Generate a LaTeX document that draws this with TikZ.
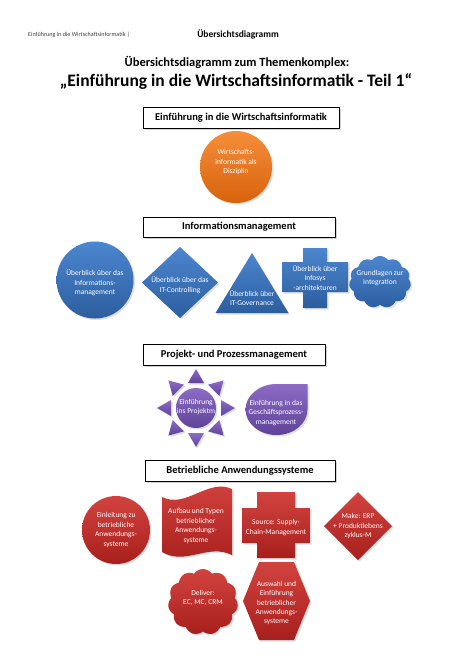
\documentclass[tikz,border=0pt]{standalone}
\usepackage{fontspec}
\setmainfont{Carlito}
\usetikzlibrary{shapes.geometric,shapes.symbols,shadows,calc}
\definecolor{orT}{HTML}{F58E3A}\definecolor{orB}{HTML}{D8620C}
\definecolor{blT}{HTML}{4C86CF}\definecolor{blB}{HTML}{2C5E9F}
\definecolor{puT}{HTML}{8C6CC4}\definecolor{puB}{HTML}{5F4299}
\definecolor{reT}{HTML}{D2433F}\definecolor{reB}{HTML}{A71F1C}
\tikzset{
  shd/.style={drop shadow={opacity=0.25,shadow xshift=1.5pt,shadow yshift=-1.5pt}},
  orshape/.style={top color=orT,bottom color=orB,shd},
  blshape/.style={top color=blT,bottom color=blB,shd},
  pushape/.style={top color=puT,bottom color=puB,shd},
  reshape/.style={top color=reT,bottom color=reB,shd},
  stxt/.style={text=white,font=\fontsize{7.5}{9.4}\selectfont,align=center,inner sep=0pt},
  headbox/.style={draw=black,line width=0.9pt,fill=white,font=\bfseries\fontsize{10.5}{12}\selectfont,
    inner sep=0pt,minimum height=21pt,
    drop shadow={opacity=0.35,shadow xshift=2pt,shadow yshift=-2pt,fill=gray}},
}
\begin{document}
\begin{tikzpicture}[x=1pt,y=-1pt]
\useasboundingbox (0,0) rectangle (474,670);
\fill[white] (0,0) rectangle (474,670);
% header
\node[anchor=west,font=\fontsize{6.1}{7}\selectfont,text=black!75,inner sep=0pt] (hdl) at (28,35) {Einführung in die Wirtschaftsinformatik |};
\node[font=\bfseries\fontsize{9.5}{11}\selectfont,inner sep=0pt] (hdr) at (238,34.5) {Übersichtsdiagramm};
\node[font=\bfseries\fontsize{12.5}{14}\selectfont,inner sep=0pt] (t1) at (237,62) {Übersichtsdiagramm zum Themenkomplex:};
\node[font=\bfseries\fontsize{17.5}{19}\selectfont,inner sep=0pt] (t2) at (236,82) {„Einführung in die Wirtschaftsinformatik - Teil 1“};
% section boxes
\node[headbox,minimum width=196pt] (b1) at (241,117.5) {Einführung in die Wirtschaftsinformatik};
\node[headbox,minimum width=192pt,minimum height=20pt] (b2) at (239,227) {Informationsmanagement};
\node[headbox,minimum width=182pt] (b3) at (234,354.5) {Projekt- und Prozessmanagement};
\node[headbox,minimum width=190pt] (b4) at (240,470.5) {Betriebliche Anwendungssysteme};
% --- section 1
\path[orshape] (236,167) circle[radius=36];
\node[stxt] (o1) at (236,162) {Wirtschafts-\\informatik als\\Disziplin};
% --- section 2
\path[blshape] (95,280) circle[radius=38.5];
\node[stxt] (i1) at (95,283) {Überblick über das\\Informations-\\management};
\path[blshape] (180,247) -- (218,282.5) -- (180,318) -- (142,282.5) -- cycle;
\node[stxt] (i2) at (180,285) {Überblick über das\\IT-Controlling};
\path[blshape] (252,253) -- (288.5,313) -- (215.5,313) -- cycle;
\node[stxt] (i3) at (252,298) {Überblick über\\IT-Governance};
\path[blshape] (303,248) -- (327,248) -- (327,262) -- (348,262) -- (348,292) -- (327,292) -- (327,308) -- (303,308) -- (303,292) -- (282,292) -- (282,262) -- (303,262) -- cycle;
\node[stxt] (i4) at (315,278) {Überblick über\\Infosys\\-architekturen};
\node[cloud,cloud ignores aspect,cloud puffs=11,cloud puff arc=110,minimum width=62pt,minimum height=52pt,inner sep=0pt,blshape] (cl1) at (380,282) {};
\node[stxt] (i5) at (380,278) {Grundlagen zur\\Integration};
% --- section 3
\coordinate (sun) at (196,408);
\foreach \a in {0,45,...,315}{
  \path[pushape] ($(sun)+(\a:39)$) -- ($(sun)+(\a:25)+(\a+90:8)$) -- ($(sun)+(\a:25)+(\a-90:8)$) -- cycle;
}
\path[pushape] (sun) circle[radius=20];
\node[stxt] (p1) at (196,407) {Einführung\\ins Projektm};
\path[pushape] (276.5,384) -- (307.5,384) -- (307.5,409.5) arc[start angle=0,end angle=270,x radius=31,y radius=25.5] -- cycle;
\node[stxt] (p2) at (276,413) {Einführung in das\\Geschäftsprozess-\\management};
% --- section 4
\path[reshape] (116,530) circle[radius=34];
\node[stxt] (r1) at (116,530) {Einleitung zu\\betriebliche\\Anwendungs-\\systeme};
\path[reshape] (162,497) .. controls (186,509) and (208,478) .. (232,489) -- (232,555) .. controls (208,543) and (186,566) .. (162,552) -- cycle;
\node[stxt] (r2) at (196,526) {Aufbau und Typen\\betrieblicher\\Anwendungs-\\systeme};
\path[reshape] (257,492) -- (295,492) -- (295,508) -- (310,508) -- (310,543) -- (295,543) -- (295,558) -- (257,558) -- (257,543) -- (242,543) -- (242,508) -- (257,508) -- cycle;
\node[stxt] (r3) at (276,527.5) {Source: Supply-\\Chain-Management};
\path[reshape] (358,492) -- (392,526) -- (358,560) -- (324,526) -- cycle;
\node[stxt] (r4) at (358,526) {Make: ERP\\+ Produktlebens\\zyklus-M};
\node[cloud,cloud ignores aspect,cloud puffs=11,cloud puff arc=110,minimum width=70pt,minimum height=66pt,inner sep=0pt,reshape] (cl2) at (203,602) {};
\node[stxt] (r5) at (203,598) {Deliver:\\EC, MC, CRM};
\path[reshape] (259,562) -- (294,562) -- (310,601) -- (294,640) -- (259,640) -- (243,601) -- cycle;
\node[stxt] (r6) at (276.5,603) {Auswahl und\\Einführung\\betrieblicher\\Anwendungs-\\systeme};
\end{tikzpicture}
\end{document}
